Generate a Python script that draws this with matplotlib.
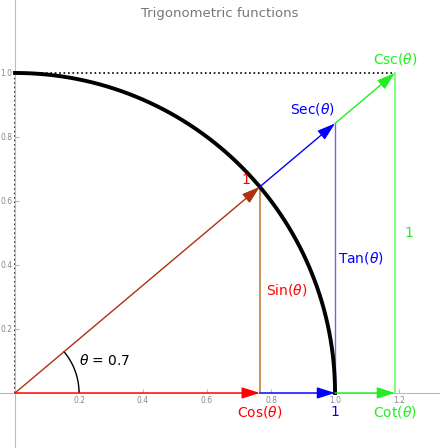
import numpy as np
import matplotlib
matplotlib.use("Agg")
import matplotlib.pyplot as plt

theta = 0.7
xticks = [0.2, 0.4, 0.6, 0.8, 1.0, 1.2]
yticks = [0.2, 0.4, 0.6, 0.8, 1.0]
c, s = np.cos(theta), np.sin(theta)
t, cot = np.tan(theta), 1/np.tan(theta)

fig = plt.figure(figsize=(4.4, 4.48), dpi=100)
ax = fig.add_axes([0, 0, 1, 1])
ax.set_xlim(-0.047, 1.328)
ax.set_ylim(-0.172, 1.228)
for k in ['top', 'right']:
    ax.spines[k].set_visible(False)
for k in ['left', 'bottom']:
    ax.spines[k].set_position(('data', 0))
    ax.spines[k].set_color('#bbbbbb')
ax.set_xticks(xticks)
ax.set_yticks(yticks)
ax.set_xticklabels([f"{v:.1f}" for v in xticks])
ax.set_yticklabels([f"{v:.1f}" for v in yticks])
ax.tick_params(direction='in', length=3, color='#bbbbbb', labelcolor='#888888', labelsize=5.5, pad=2)
ax.text(0.5, 0.985, "Trigonometric functions", transform=ax.transAxes, ha='center', va='top', color='#777777', fontsize=9.5)

red, blue, green, brown = '#ff0000', '#0000ff', '#22ee22', '#c08040'
a = np.linspace(0, np.pi/2, 200)
ax.plot(np.cos(a), np.sin(a), color='black', lw=2.8, zorder=3)
ax.plot([0, cot], [1, 1], color='black', ls=':', lw=1.2)
ax.plot([0, 0], [0, 1], color='black', ls=':', lw=1.2)
ax.plot([c, c], [0, s], color=brown, lw=1.2)
ax.plot([1, 1], [0, t], color='#6666ff', lw=1.0)
ax.plot([cot, cot], [0, 1], color='#66ff66', lw=1.2)

def arrow(p0, p1, col, lw=1.0):
    ax.annotate('', xy=p1, xytext=p0,
                arrowprops=dict(arrowstyle='-|>,head_length=1.1,head_width=0.35', color=col, lw=lw, shrinkA=0, shrinkB=0), zorder=4)

arrow((0, 0), (c, s), '#b03010')
arrow((c, s), (1, t), blue)
arrow((1, t), (cot, 1), green)
arrow((0, 0), (c, 0), red)
arrow((c, 0), (1, 0), blue)
arrow((1, 0), (cot, 0), green)

b = np.linspace(0, theta, 50)
ax.plot(0.2*np.cos(b), 0.2*np.sin(b), color='black', lw=1)
ax.text(0.2, 0.1, r"$\theta$ = 0.7", fontsize=10, va='center')

ax.text(c, -0.06, r"Cos($\theta$)", color=red, ha='center', va='center', fontsize=10)
ax.text(1.0, -0.06, "1", color=blue, ha='center', va='center', fontsize=10)
ax.text(cot, -0.06, r"Cot($\theta$)", color=green, ha='center', va='center', fontsize=10)
ax.text(c + 0.02, s / 2, r"Sin($\theta$)", color=red, va='center', fontsize=10)
ax.text(1.01, t / 2, r"Tan($\theta$)", color=blue, va='center', fontsize=10)
ax.text(cot + 0.03, 0.5, "1", color=green, va='center', fontsize=10)
ax.text(c - 0.03, s + 0.02, "1", color=red, ha='right', va='center', fontsize=10)
ax.text(1.0, t + 0.02, r"Sec($\theta$)", color=blue, ha='right', va='bottom', fontsize=10)
ax.text(cot, 1.02, r"Csc($\theta$)", color=green, ha='center', va='bottom', fontsize=10)

fig.savefig("out.png", dpi=100)
